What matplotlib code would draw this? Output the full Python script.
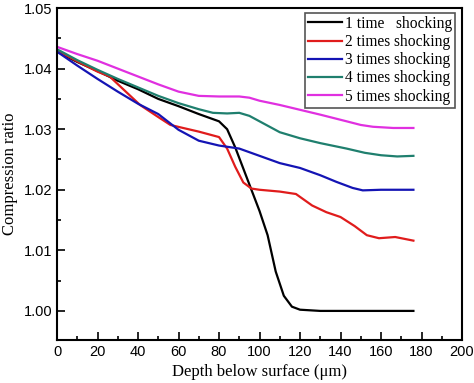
import matplotlib
matplotlib.use('Agg')
import matplotlib.pyplot as plt
from matplotlib.ticker import MultipleLocator, FormatStrFormatter

# values
x1 = [0, 10, 20, 30, 40, 50, 60, 70, 80, 84, 88, 92, 96, 100, 104, 108, 112, 116, 120, 130, 176]
y1 = [1.0428, 1.0411, 1.0396, 1.0380, 1.0366, 1.0350, 1.0338, 1.0325, 1.0313, 1.0300, 1.0270,
      1.0235, 1.0200, 1.0165, 1.0125, 1.0065, 1.0025, 1.0007, 1.0002, 1.0000, 1.0000]

x2 = [0, 10, 20, 26, 33, 41, 50, 56, 61, 70, 80, 84, 88, 92, 96, 100, 110, 118, 126, 133,
      140, 147, 153, 159, 167, 176]
y2 = [1.0430, 1.0412, 1.0395, 1.0387, 1.0365, 1.0340, 1.0320, 1.0307, 1.0303, 1.0296, 1.0287,
      1.0268, 1.0238, 1.0212, 1.0202, 1.0200, 1.0197, 1.0193, 1.0174, 1.0163, 1.0155, 1.0140,
      1.0125, 1.0120, 1.0122, 1.0116]

x3 = [0, 10, 20, 30, 40, 50, 60, 70, 80, 90, 100, 110, 120, 130, 138, 146, 151, 160, 176]
y3 = [1.0428, 1.0405, 1.0383, 1.0362, 1.0342, 1.0325, 1.0299, 1.0281, 1.0273, 1.0268, 1.0256,
      1.0244, 1.0236, 1.0224, 1.0213, 1.0203, 1.0199, 1.0200, 1.0200]

x4 = [0, 10, 20, 30, 40, 50, 60, 70, 77, 84, 90, 95, 100, 110, 120, 130, 143, 152, 160, 168, 176]
y4 = [1.0432, 1.0414, 1.0398, 1.0383, 1.0369, 1.0355, 1.0343, 1.0333, 1.0327, 1.0326, 1.0327,
      1.0322, 1.0313, 1.0295, 1.0285, 1.0277, 1.0268, 1.0261, 1.0257, 1.0255, 1.0256]

x5 = [0, 10, 20, 30, 40, 50, 60, 70, 80, 90, 95, 100, 110, 120, 130, 143, 150, 156, 166, 176]
y5 = [1.0436, 1.0424, 1.0413, 1.0400, 1.0387, 1.0374, 1.0362, 1.0355, 1.0354, 1.0354, 1.0352,
      1.0347, 1.0340, 1.0332, 1.0324, 1.0313, 1.0307, 1.0304, 1.0302, 1.0302]

labels = ['1 time   shocking', '2 times shocking', '3 times shocking',
          '4 times shocking', '5 times shocking']
colors = ['black', '#e01c1c', '#1414b4', '#1f7f6e', '#e030e0']

fig = plt.figure(figsize=(4.74, 3.83), dpi=100)
ax = fig.add_axes([0.1203, 0.1123, 0.8544, 0.8667])

for xs, ys, lab, c in zip([x1, x2, x3, x4, x5], [y1, y2, y3, y4, y5], labels, colors):
    ax.plot(xs, ys, color=c, lw=1.6, label=lab)

ax.set_xlim(0, 200)
ax.set_ylim(0.9952, 1.05)
ax.xaxis.set_major_locator(MultipleLocator(20))
ax.xaxis.set_minor_locator(MultipleLocator(10))
ax.yaxis.set_major_locator(MultipleLocator(0.01))
ax.yaxis.set_minor_locator(MultipleLocator(0.005))
ax.yaxis.set_major_formatter(FormatStrFormatter('%.2f'))
ax.tick_params(which='both', direction='in', top=False, right=False, width=1.2)
ax.tick_params(which='major', length=6, labelsize=10.5)
ax.tick_params(which='minor', length=3)
for lab in ax.get_xticklabels() + ax.get_yticklabels():
    lab.set_family('Liberation Sans')
for s in ax.spines.values():
    s.set_linewidth(1.5)

ax.set_xlabel('Depth below surface (\u03bcm)', family='Liberation Serif', fontsize=12)
ax.set_ylabel('Compression ratio', family='Liberation Serif', fontsize=12)

leg = ax.legend(loc='upper right', bbox_to_anchor=(455 / 474, 1 - 12.7 / 383),
                bbox_transform=fig.transFigure,
                prop={'family': 'Liberation Serif', 'size': 11.2},
                fancybox=False, edgecolor='#555555', framealpha=1, labelspacing=0.14,
                handlelength=2.2, handletextpad=0.15, borderpad=0.2, borderaxespad=0)
leg.get_frame().set_linewidth(1.2)

fig.savefig('out.png', dpi=100)
